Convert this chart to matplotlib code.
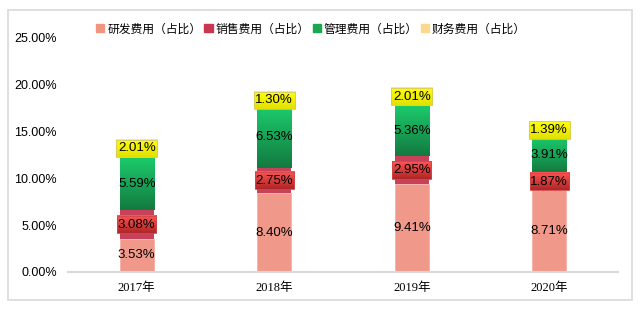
import numpy as np
import matplotlib
matplotlib.use('Agg')
import matplotlib.pyplot as plt
from matplotlib.colors import to_rgb
from matplotlib.patches import Rectangle, Patch

plt.rcParams['font.family'] = ['Liberation Sans', 'Noto Sans CJK SC']

# 数据（单位：%）
years = ['2017年', '2018年', '2019年', '2020年']
rd = [3.53, 8.40, 9.41, 8.71]        # 研发费用
sales = [3.08, 2.75, 2.95, 1.87]     # 销售费用
admin = [5.59, 6.53, 5.36, 3.91]     # 管理费用
finance = [2.01, 1.30, 2.01, 1.39]   # 财务费用
series_names = ['研发费用（占比）', '销售费用（占比）', '管理费用（占比）', '财务费用（占比）']
yticks = [0, 5, 10, 15, 20, 25]


def gradient_rect(ax, x0, y0, w, h, c_top, c_bot, z, edge=None):
    top = np.array(to_rgb(c_top))
    bot = np.array(to_rgb(c_bot))
    t = np.linspace(0, 1, 64)[:, None]
    img = (bot * (1 - t) + top * t)[:, None, :]
    ax.imshow(img, extent=(x0, x0 + w, y0, y0 + h), origin='lower',
              aspect='auto', zorder=z, interpolation='bilinear')
    if edge:
        ax.add_patch(Rectangle((x0, y0), w, h, fill=False, ec=edge, lw=0.6, zorder=z + 0.1))


fig = plt.figure(figsize=(6.4, 3.09), dpi=100)
fig.patches.append(Rectangle((8 / 640, 9 / 309), 624 / 640, 290 / 309, transform=fig.transFigure,
                             fill=False, ec='#D9D9D9', lw=1.2))
ax = fig.add_axes([68 / 640, 37 / 309, 550 / 640, 234 / 309])

x = np.arange(len(years))
bw = 0.25
rd_a, sa_a, ad_a, fi_a = map(np.array, (rd, sales, admin, finance))

ax.bar(x, rd_a, bw, color='#F0998A', ec='#F5B0A2', lw=0.6, zorder=2)
ax.bar(x, sa_a, bw, bottom=rd_a, color='#C8415A', zorder=2)
b2 = rd_a + sa_a
for i in range(len(x)):
    gradient_rect(ax, x[i] - bw / 2, b2[i], bw, ad_a[i], '#1CCB6C', '#137A40', 2)
b3 = b2 + ad_a
ax.bar(x, fi_a, bw, bottom=b3, color='#FFD88F', zorder=2)

# 数据标签
bh = 1.85
for i in range(len(x)):
    ax.text(x[i], rd_a[i] / 2, f'{rd[i]:.2f}%', ha='center', va='center', fontsize=9.5, zorder=5)
    cy = rd_a[i] + sa_a[i] / 2
    gradient_rect(ax, x[i] - 0.143, cy - bh / 2, 0.286, bh, '#FF5555', '#B02525', 3.5, edge='#D04848')
    ax.text(x[i], cy, f'{sales[i]:.2f}%', ha='center', va='center', fontsize=9.5, zorder=5)
    ax.text(x[i], b2[i] + ad_a[i] / 2, f'{admin[i]:.2f}%', ha='center', va='center', fontsize=9.5, zorder=5)
    cy = b3[i] + fi_a[i] / 2
    gradient_rect(ax, x[i] - 0.15, cy - bh / 2, 0.3, bh, '#FFFF10', '#E2E000', 3.5, edge='#D8C860')
    ax.text(x[i], cy, f'{finance[i]:.2f}%', ha='center', va='center', fontsize=9.5, zorder=5)

ax.set_xlim(-0.5, len(years) - 0.5)
ax.set_ylim(0, 25)
ax.set_yticks(yticks)
ax.set_yticklabels([f'{v:.2f}%' for v in yticks], fontsize=9)
ax.set_xticks(x)
ax.set_xticklabels(years, fontsize=9, family=['Liberation Serif', 'Noto Sans CJK SC'])
ax.tick_params(axis='both', length=0)
ax.tick_params(axis='y', pad=8)
ax.tick_params(axis='x', pad=7)
for s in ['top', 'right', 'left']:
    ax.spines[s].set_visible(False)
ax.spines['bottom'].set_color('#D9D9D9')
ax.spines['bottom'].set_linewidth(1.5)

handles = [Patch(color=c) for c in ['#F0957F', '#C8374F', '#19A84F', '#FFD88F']]
fig.legend(handles, series_names, loc='center', bbox_to_anchor=(0.486, 0.905), ncol=4,
           frameon=False, fontsize=8.5, handlelength=0.7, handleheight=0.7,
           handletextpad=0.25, columnspacing=0.25)

fig.savefig('out.png', dpi=100)
